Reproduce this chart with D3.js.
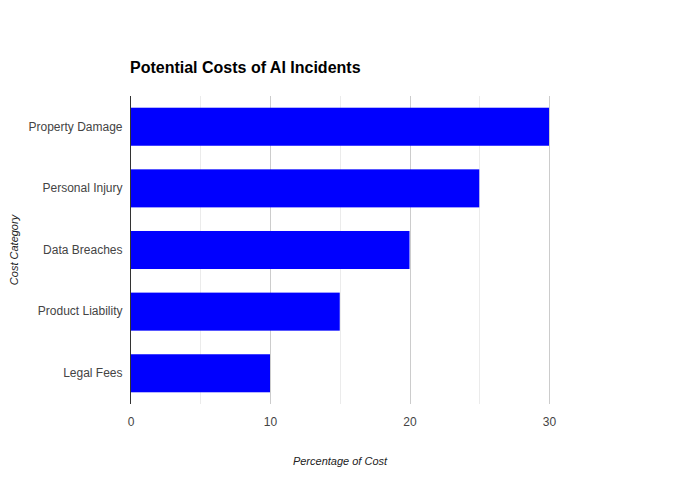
<!DOCTYPE html>
<html><head><meta charset="utf-8">
<script src="https://cdn.jsdelivr.net/npm/d3@7"></script>
<style>body{margin:0;background:#fff;} svg{display:block;font-family:Arial,"Liberation Sans",sans-serif;}</style>
</head><body>
<svg id="c" width="680" height="500"></svg>
<script>
const categories = ["Property Damage","Personal Injury","Data Breaches","Product Liability","Legal Fees"];
const values = [30,25,20,15,10];
const majorTicks = [0,10,20,30];
const minorTicks = [5,15,25];

const svg = d3.select("#c");
svg.append("rect").attr("width",680).attr("height",500).attr("fill","#fff");
const pLeft = 130.5, pRight = 549, pTop = 96, pBottom = 404;
const x = d3.scaleLinear().domain([0,30]).range([pLeft,pRight]);
const y = d3.scaleBand().domain(categories).range([pTop,pBottom]).paddingInner(0.383).paddingOuter(0.19);

svg.selectAll("line.minor").data(minorTicks).enter().append("line")
  .attr("x1",d=>Math.round(x(d))+0.5).attr("x2",d=>Math.round(x(d))+0.5)
  .attr("y1",pTop).attr("y2",pBottom).attr("stroke","#ebebeb");
svg.selectAll("line.major").data(majorTicks.filter(d=>d>0)).enter().append("line")
  .attr("x1",d=>Math.round(x(d))+0.5).attr("x2",d=>Math.round(x(d))+0.5)
  .attr("y1",pTop).attr("y2",pBottom).attr("stroke","#cccccc");

svg.selectAll("rect.bar").data(categories).enter().append("rect")
  .attr("x",x(0)).attr("y",d=>y(d)).attr("width",(d,i)=>x(values[i])-x(0))
  .attr("height",y.bandwidth()).attr("fill","#0000ff");

svg.append("line").attr("x1",130.5).attr("x2",130.5).attr("y1",pTop).attr("y2",pBottom).attr("stroke","#333");

const xa = d3.axisBottom(x).tickValues(majorTicks).tickSize(0).tickPadding(0);
const gx = svg.append("g").attr("transform",`translate(0,${pBottom})`).call(xa);
gx.select(".domain").remove();
gx.selectAll("text").attr("font-size",12).attr("fill","#444").attr("y",22).attr("dy",0).attr("font-family","Arial,'Liberation Sans',sans-serif");

const ya = d3.axisLeft(y).tickSize(0).tickPadding(8);
const gy = svg.append("g").attr("transform",`translate(${pLeft},0)`).call(ya);
gy.select(".domain").remove();
gy.selectAll("text").attr("font-size",12).attr("fill","#444").attr("font-family","Arial,'Liberation Sans',sans-serif");

svg.append("text").attr("x",130).attr("y",73).attr("font-size",16).attr("font-weight","bold").attr("fill","#000").text("Potential Costs of AI Incidents");
svg.append("text").attr("x",340).attr("y",465).attr("text-anchor","middle").attr("font-size",11).attr("font-style","italic").attr("fill","#222").text("Percentage of Cost");
svg.append("text").attr("transform","translate(18,250) rotate(-90)").attr("text-anchor","middle").attr("font-size",11).attr("font-style","italic").attr("fill","#222").text("Cost Category");
</script>
</body></html>
